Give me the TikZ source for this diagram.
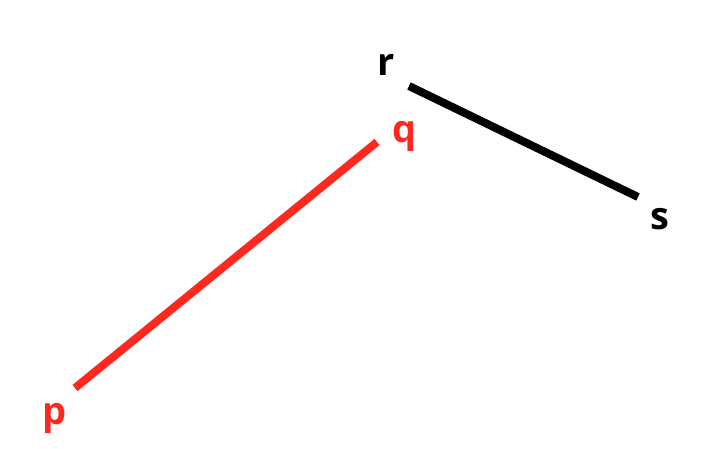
\documentclass[tikz,border=0pt]{standalone}
\usepackage{fontspec}
\setmainfont{Open Sans}
\usepackage{tikz}
\definecolor{segred}{RGB}{255,40,30}

\begin{document}
\begin{tikzpicture}[x=1pt,y=1pt,yscale=-1,xscale=1,
  lbl/.style={font=\fontsize{38}{38}\selectfont\bfseries},
  seg/.style={line width=8}]
\useasboundingbox (0,0) rectangle (702,448);

%Ends of segment pq
\coordinate (pend) at (75,388);
\coordinate (qend) at (377,142);
%Ends of segment rs
\coordinate (rend) at (409,86);
\coordinate (send) at (638,197);

%Straight Lines
\draw [seg, segred] (pend) -- (qend) ;
%Straight Lines
\draw [seg, black] (rend) -- (send) ;

% Text Node
\node [lbl, segred] (p) at (55,418) {p};
% Text Node
\node [lbl, segred] (q) at (405,136) {q};
% Text Node
\node [lbl] (r) at (386,65) {r};
% Text Node
\node [lbl] (s) at (660,219) {s};

\end{tikzpicture}
\end{document}
